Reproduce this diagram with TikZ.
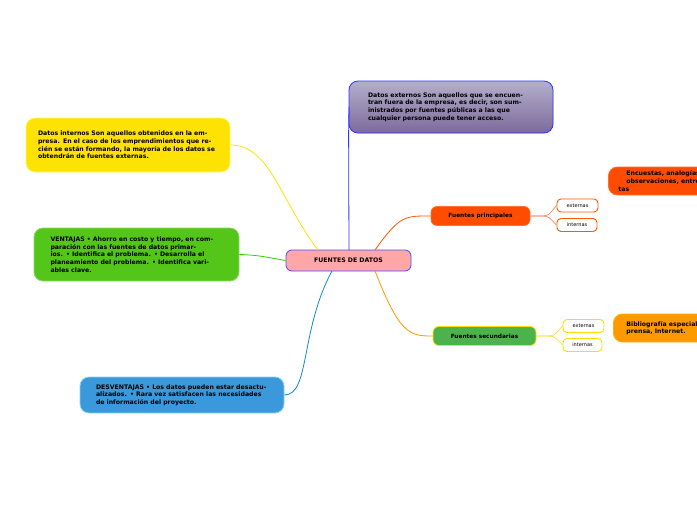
\documentclass[tikz,border=0pt]{standalone}
\usepackage{fontspec}
\setmainfont{DejaVu Sans}
\begin{document}
\begin{tikzpicture}[x=1pt,y=-1pt,
 box/.style={rounded corners=9pt,draw,line width=0.8pt,font=\bfseries\fontsize{6.2}{7.6}\selectfont,align=left,inner sep=0pt},
 tiny/.style={rounded corners=4pt,draw,line width=0.9pt,fill=white,font=\fontsize{5}{6}\selectfont,minimum height=13pt,inner sep=0pt},
 con/.style={line width=0.8pt}]
\useasboundingbox (0,0) rectangle (697,520);
\node[box,fill=red!25!pink!80!white,draw=blue!70,minimum width=125pt,minimum height=21pt,align=center,rounded corners=6pt] (c) at (348.5,260.5) {FUENTES DE DATOS};
\node[box,fill=violet!45!blue!35!gray!90,top color=violet!25!blue!25!gray!50,bottom color=violet!55!blue!30!gray!90,draw=blue!80,minimum width=204pt,minimum height=52pt,text width=166pt] (de) at (451,107) {Datos externos Son aquellos que se encuentran fuera de la empresa, es decir, son suministrados por fuentes públicas a las que cualquier persona puede tener acceso.};
\node[box,fill=yellow!85!orange,draw=yellow!60!white,minimum width=204pt,minimum height=54pt,text width=180pt] (di) at (128,145) {Datos internos Son aquellos obtenidos en la empresa. En el caso de los emprendimientos que recién se están formando, la mayoría de los datos se obtendrán de fuentes externas.};
\node[box,fill=green!50!olive!90!white,draw=green!50!olive!60!white,minimum width=205pt,minimum height=53pt,text width=172pt] (v) at (136.5,254.5) {VENTAJAS • Ahorro en costo y tiempo, en comparación con las fuentes de datos primarios. • Identifica el problema. • Desarrolla el planeamiento del problema. • Identifica variables clave.};
\node[box,fill=cyan!70!blue!80!white,draw=cyan!50,minimum width=204pt,minimum height=36pt,text width=172pt] (ds) at (182,395) {DESVENTAJAS • Los datos pueden estar desactualizados. • Rara vez satisfacen las necesidades de información del proyecto.};
\node[box,fill=orange!60!red,draw=orange!60!red!80!white,minimum width=99pt,minimum height=19pt,align=center,rounded corners=6pt,font=\bfseries\fontsize{5.8}{7}\selectfont] (fp) at (480.5,216) {Fuentes principales};
\node[box,fill=green!40!gray,draw=yellow!80!orange,minimum width=103pt,minimum height=19pt,align=center,rounded corners=6pt,font=\bfseries\fontsize{5.8}{7}\selectfont] (fs) at (484.5,336) {Fuentes secundarias};
\node[tiny,draw=orange!70!red,minimum width=41pt] (e1) at (577.5,205.5) {externas};
\node[tiny,draw=orange!70!red,minimum width=40pt] (i1) at (577,225) {internas};
\node[tiny,draw=yellow!80!orange,minimum width=41pt] (e2) at (583.5,326) {externas};
\node[tiny,draw=yellow!80!orange,minimum width=39pt] (i2) at (582.5,345) {internas};
\node[box,fill=orange!60!red,draw=orange!60!red!80!white,minimum width=120pt,minimum height=28pt,anchor=west,text width=100pt] (en) at (608,181) {\hspace*{8pt}Encuestas, analogías,\\\hspace*{8pt}observaciones, entrevistas};
\node[box,fill=orange!80!yellow,draw=orange!60!yellow,minimum width=120pt,minimum height=28pt,anchor=west,text width=110pt] (bi) at (613,328) {\hspace*{8pt}Bibliografía especializada,\\\hspace*{8pt}prensa, Internet.};
\draw[con,draw=blue!80] (349,250) -- (de.west|-de.south) ++(0,0) -- (349,107);
\draw[con,draw=yellow!85!orange] (318,250) .. controls (280,200) and (270,145) .. (di.east);
\draw[con,draw=green!60!olive] (c.west) .. controls (270,258) and (260,255) .. (v.east);
\draw[con,draw=cyan!70!blue] (332,271) .. controls (300,330) and (310,395) .. (ds.east);
\draw[con,draw=orange!70!red] (375,250) .. controls (400,215) and (405,216) .. (fp.west);
\draw[con,draw=orange!80!yellow] (375,271) .. controls (400,335) and (410,336) .. (fs.west);
\foreach \t in {e1,i1} \draw[con,draw=orange!50!red!60!white] (fp.east) -- (540,216) .. controls (548,216) .. (\t.west);
\foreach \t in {e2,i2} \draw[con,draw=yellow!70!orange!70!white] (fs.east) -- (546,336) .. controls (554,336) .. (\t.west);
\end{tikzpicture}
\end{document}
